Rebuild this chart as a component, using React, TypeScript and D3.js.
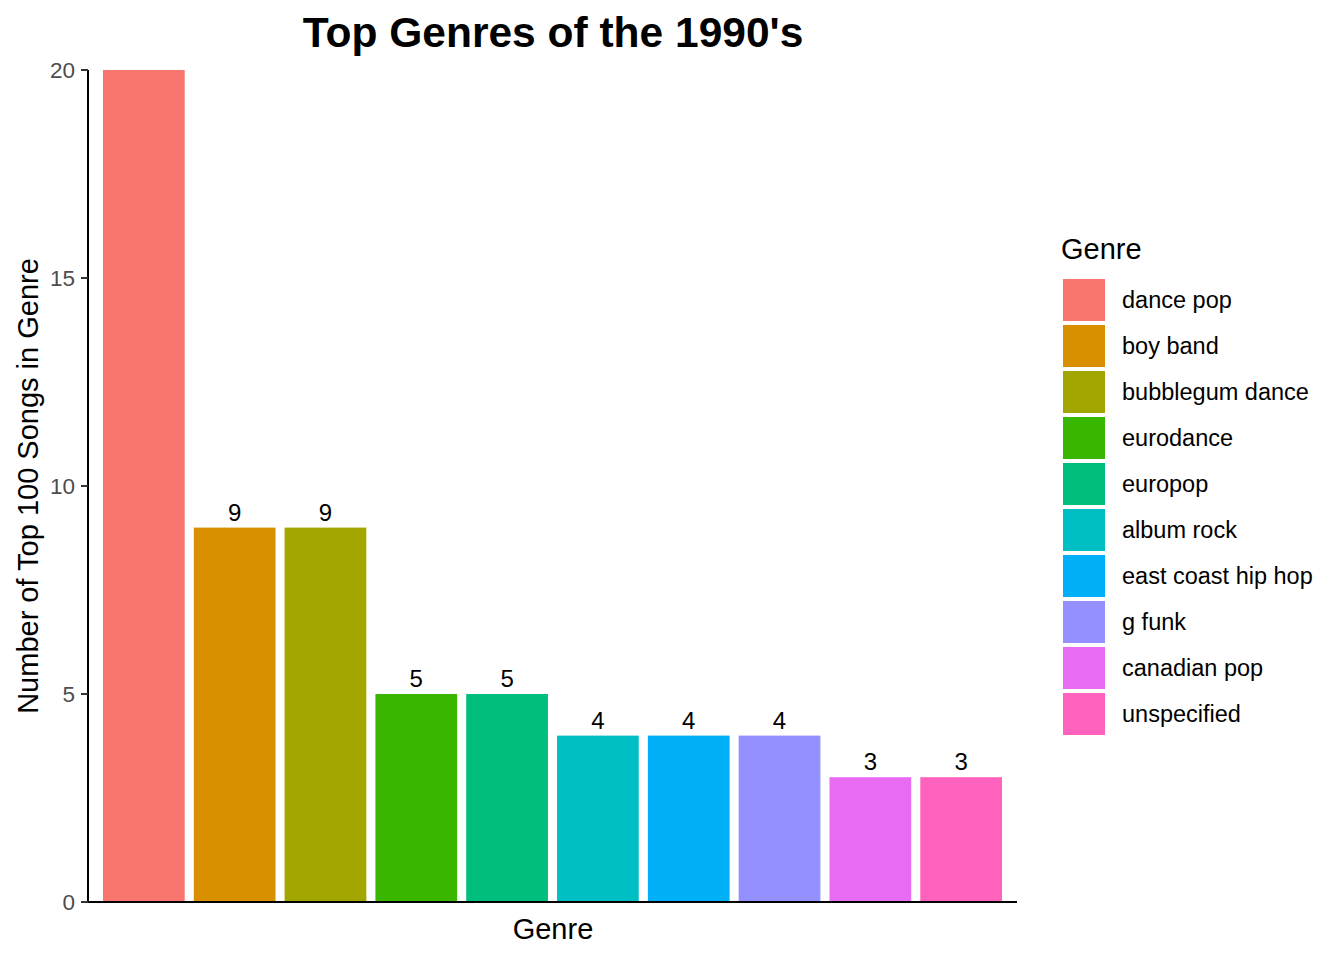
import React from 'react';
import * as d3 from 'd3';

// genres in the order they're plotted
const genres = [
  'dance pop',
  'boy band',
  'bubblegum dance',
  'eurodance',
  'europop',
  'album rock',
  'east coast hip hop',
  'g funk',
  'canadian pop',
  'unspecified',
];
const counts = [20, 9, 9, 5, 5, 4, 4, 4, 3, 3];
const colors = [
  '#F8766D', '#D89000', '#A3A500', '#39B600', '#00BF7D',
  '#00BFC4', '#00B0F6', '#9590FF', '#E76BF3', '#FF62BC',
];
const yTicks = [0, 5, 10, 15, 20];

const font = "'Liberation Sans', Arial, Helvetica, sans-serif";

const App = () => {
  let width = 1344;
  let height = 960;
  let panel = {left: 88, right: 1017, top: 70, bottom: 902};

  let xScale = d3.scaleBand()
    .domain(genres)
    .range([panel.left, panel.right])
    .paddingInner(0.1)
    .paddingOuter(0.165);

  let yScale = d3.scaleLinear()
    .domain([0, 20])
    .range([panel.bottom, panel.top]);

  let color = d3.scaleOrdinal<string, string>()
    .domain(genres)
    .range(colors);

  let data = genres.map((g, i) => ({genre: g, n: counts[i]}));

  let legendX = 1063;
  let legendY = 279;
  let keyStep = 46;
  let keySize = 42;

  return (
    <svg width={width} height={height} style={{display: 'block', position: 'absolute', left: 0, top: 0}} fontFamily={font}>
      <rect x={0} y={0} width={width} height={height} fill='#fff' />

      {/* bars */}
      {data.map((d) => (
        <rect
          key={d.genre}
          x={xScale(d.genre)}
          y={yScale(d.n)}
          width={xScale.bandwidth()}
          height={yScale(0) - yScale(d.n)}
          fill={color(d.genre)}
        />
      ))}

      {/* value labels (the 20 gets clipped off the top in the original) */}
      {data.filter((d) => d.n < 20).map((d) => (
        <text
          key={'lab' + d.genre}
          x={(xScale(d.genre) || 0) + xScale.bandwidth() / 2}
          y={yScale(d.n) - 7}
          textAnchor='middle'
          fontSize={24}
          fill='#000'
        >
          {d.n}
        </text>
      ))}

      {/* axes */}
      <line x1={panel.left} x2={panel.left} y1={panel.top} y2={panel.bottom + 1} stroke='#000' strokeWidth={2} />
      <line x1={panel.left - 1} x2={panel.right} y1={panel.bottom} y2={panel.bottom} stroke='#000' strokeWidth={2} />
      {yTicks.map((t) => (
        <g key={'t' + t}>
          <line x1={panel.left - 7} x2={panel.left} y1={yScale(t)} y2={yScale(t)} stroke='#333' strokeWidth={2} />
          <text x={panel.left - 13} y={yScale(t)} dy='0.36em' textAnchor='end' fontSize={22.5} fill='#4D4D4D'>
            {t}
          </text>
        </g>
      ))}

      {/* titles */}
      <text x={553} y={47} textAnchor='middle' fontSize={42.5} fontWeight='bold' fill='#000'>
        Top Genres of the 1990's
      </text>
      <text x={553} y={939} textAnchor='middle' fontSize={29} fill='#000'>
        Genre
      </text>
      <text
        transform={'translate(38,' + (panel.top + panel.bottom) / 2 + ') rotate(-90)'}
        textAnchor='middle'
        fontSize={29}
        fill='#000'
      >
        Number of Top 100 Songs in Genre
      </text>

      {/* legend */}
      <text x={1061} y={259} fontSize={29} fill='#000'>Genre</text>
      {genres.map((g, i) => (
        <g key={'leg' + g}>
          <rect x={legendX} y={legendY + i * keyStep} width={keySize} height={keySize} fill={color(g)} />
          <text x={1122} y={legendY + i * keyStep + keySize / 2} dy='0.36em' fontSize={23.5} fill='#000'>
            {g}
          </text>
        </g>
      ))}
    </svg>
  );
};

export default App;
